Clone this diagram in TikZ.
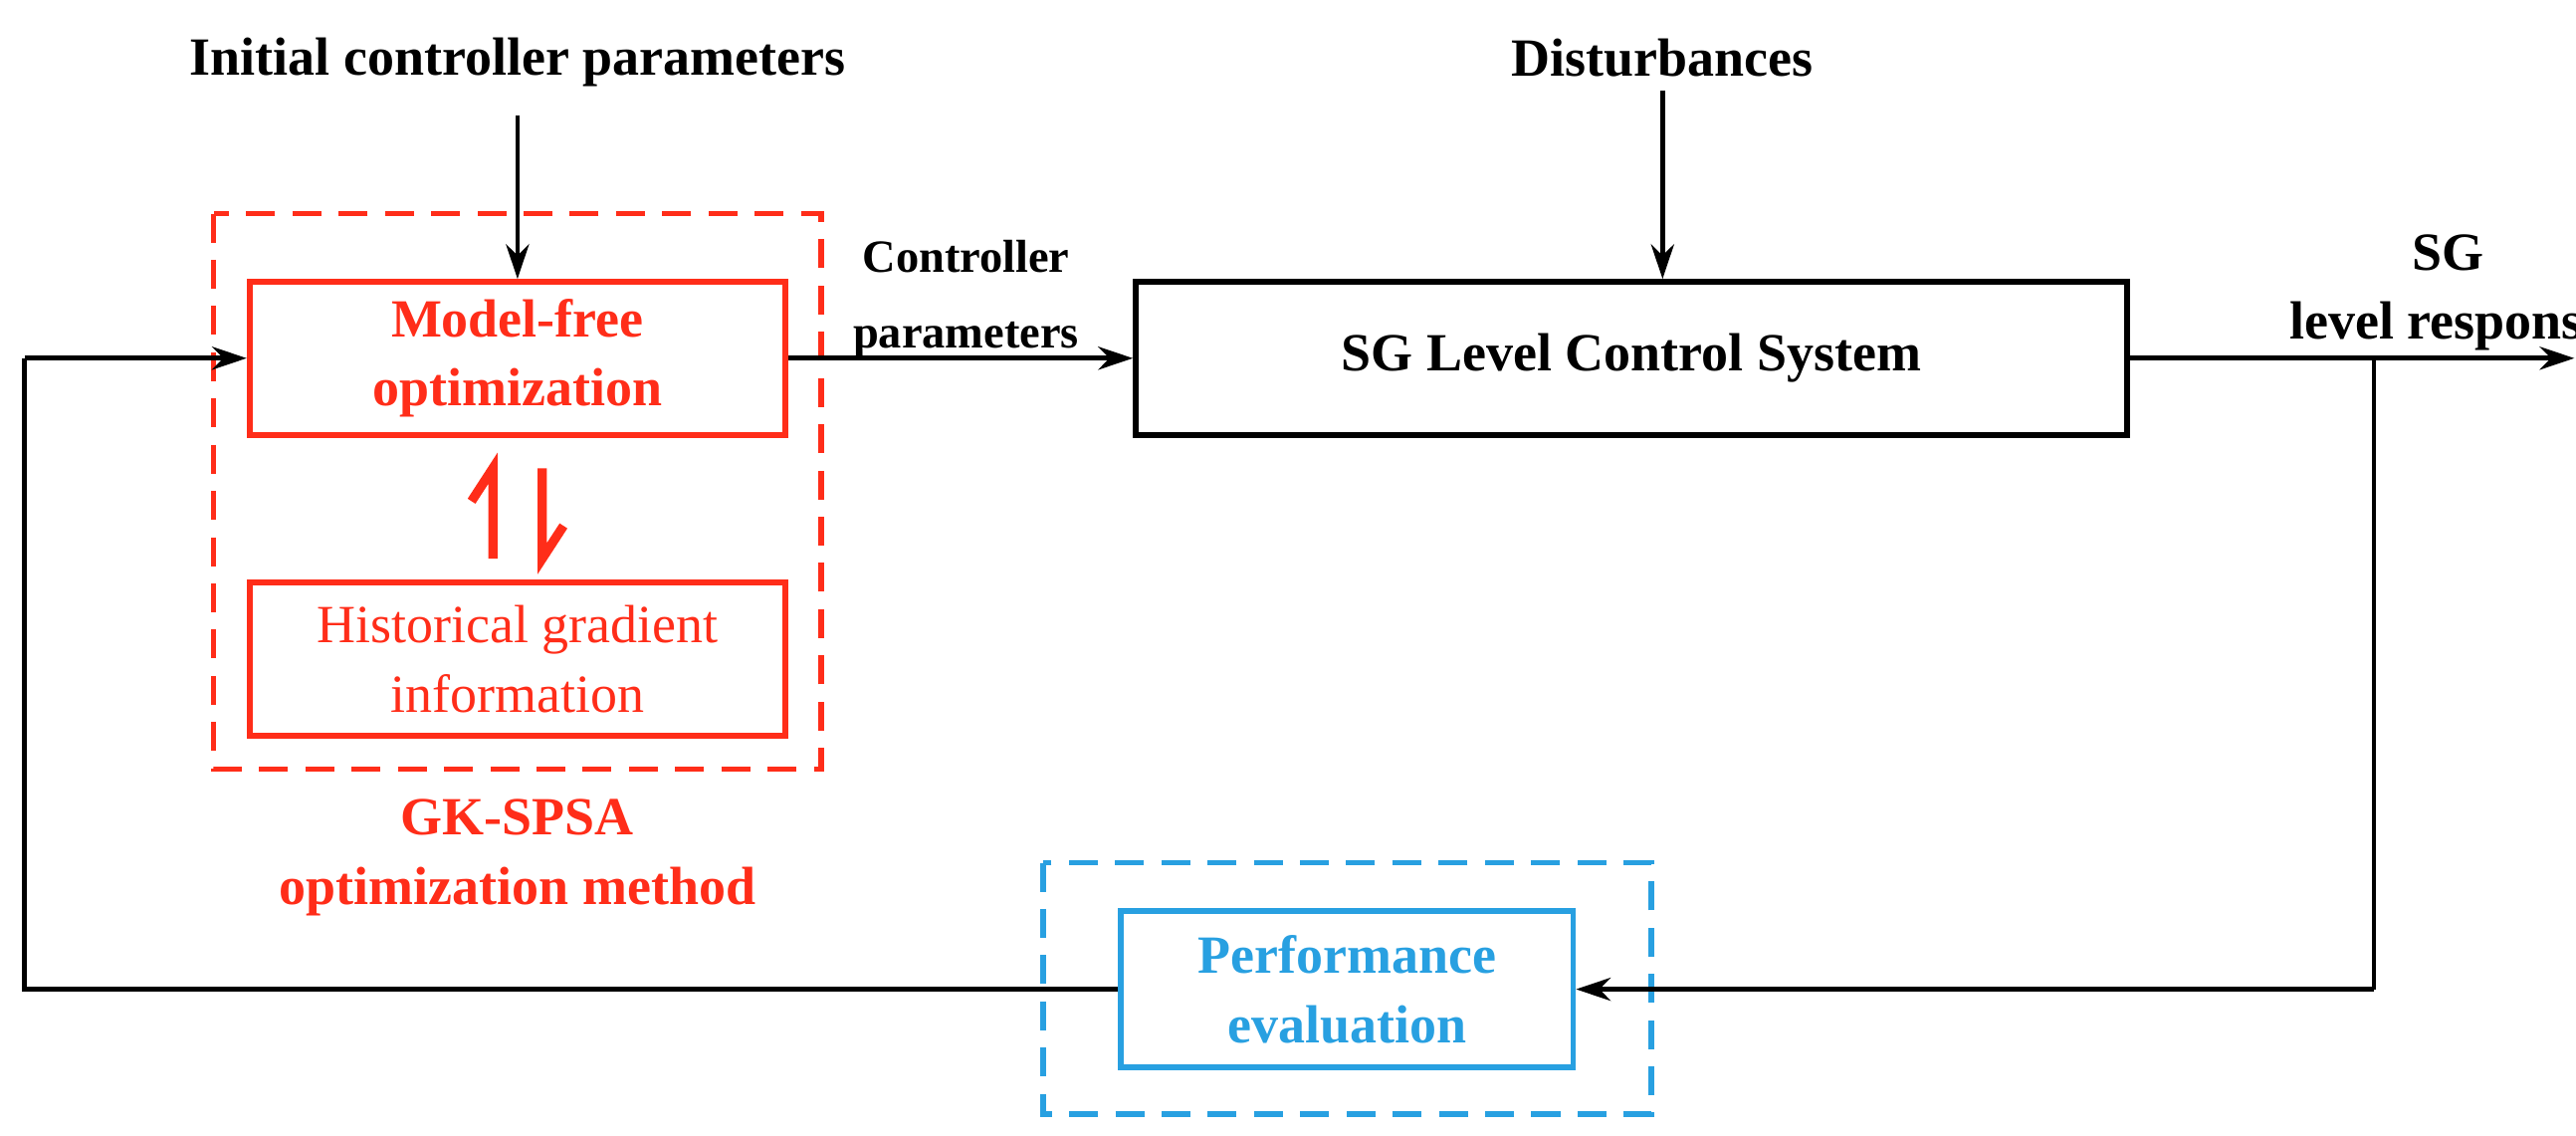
\documentclass[tikz,border=0pt]{standalone}
\usepackage{fontspec}
\setmainfont{Liberation Serif}
\usetikzlibrary{arrows.meta}
\definecolor{rd}{RGB}{255,45,25}
\definecolor{bl}{RGB}{40,160,225}
\begin{document}
\begin{tikzpicture}[x=0.01cm,y=-0.01cm,
  txt/.style={font=\fontsize{9.3}{12}\selectfont\bfseries,align=center},
  box/.style={draw,line width=1pt,inner sep=0pt,align=center},
  dbox/.style={draw,dashed,line width=1pt,dash pattern=on 5pt off 3pt},
  arr/.style={line width=0.8pt,-{Stealth[length=6pt,width=4pt]}},
  ln/.style={line width=0.8pt}]
\useasboundingbox (0,0) rectangle (1568,691);
\draw[dbox,rd] (130,130) rectangle (500,468);
\draw[dbox,bl] (635,525) rectangle (1005,678);
\node[box,rd,minimum width=3.26cm,minimum height=0.93cm,text=rd,txt] (mf) at (315,218) {Model-free\\optimization};
\node[box,rd,minimum width=3.26cm,minimum height=0.93cm,text=rd,font=\fontsize{9.3}{12}\selectfont,align=center] (hg) at (315,401) {Historical gradient\\information};
\node[box,minimum width=6.03cm,minimum height=0.93cm,txt] (sg) at (993,218) {SG Level Control System};
\node[box,bl,minimum width=2.75cm,minimum height=0.95cm,text=bl,txt] (pe) at (820,602) {Performance\\evaluation};
\node[txt] (ini) at (315,38) {Initial controller parameters};
\node[txt] (dis) at (1012,35) {Disturbances};
\node[txt,text=rd] (gk) at (315,522) {GK-SPSA\\optimization method};
\node[txt,font=\fontsize{8}{13}\selectfont\bfseries] (cp) at (588,182) {Controller\\parameters};
\node[txt] (lr) at (1490,178) {SG\\level response};
\coordinate (ini1) at (315,70);
\coordinate (dis1) at (1012,55);
\coordinate (out) at (1567,218);
\coordinate (br) at (1445,218);
\coordinate (br2) at (1445,602);
\coordinate (lc) at (15,602);
\coordinate (lc2) at (15,218);
\draw[arr] (ini1) -- (mf.north);
\draw[arr] (dis1) -- (dis1 |- sg.north);
\draw[arr] (mf.east) -- (sg.west);
\draw[arr] (sg.east) -- (out);
\draw[ln] (br) -- (br2);
\draw[arr] (br2) -- (pe.east);
\draw[ln] (pe.west) -- (lc) -- (lc2);
\draw[arr] (lc2) -- (mf.west);
\coordinate (h1a) at (300,340); \coordinate (h1b) at (300,285); \coordinate (h1c) at (287,305);
\coordinate (h2a) at (330,285); \coordinate (h2b) at (330,340); \coordinate (h2c) at (343,320);
\draw[rd,line width=1.6pt] (h1a) -- (h1b) -- (h1c);
\draw[rd,line width=1.6pt] (h2a) -- (h2b) -- (h2c);
\end{tikzpicture}
\end{document}
